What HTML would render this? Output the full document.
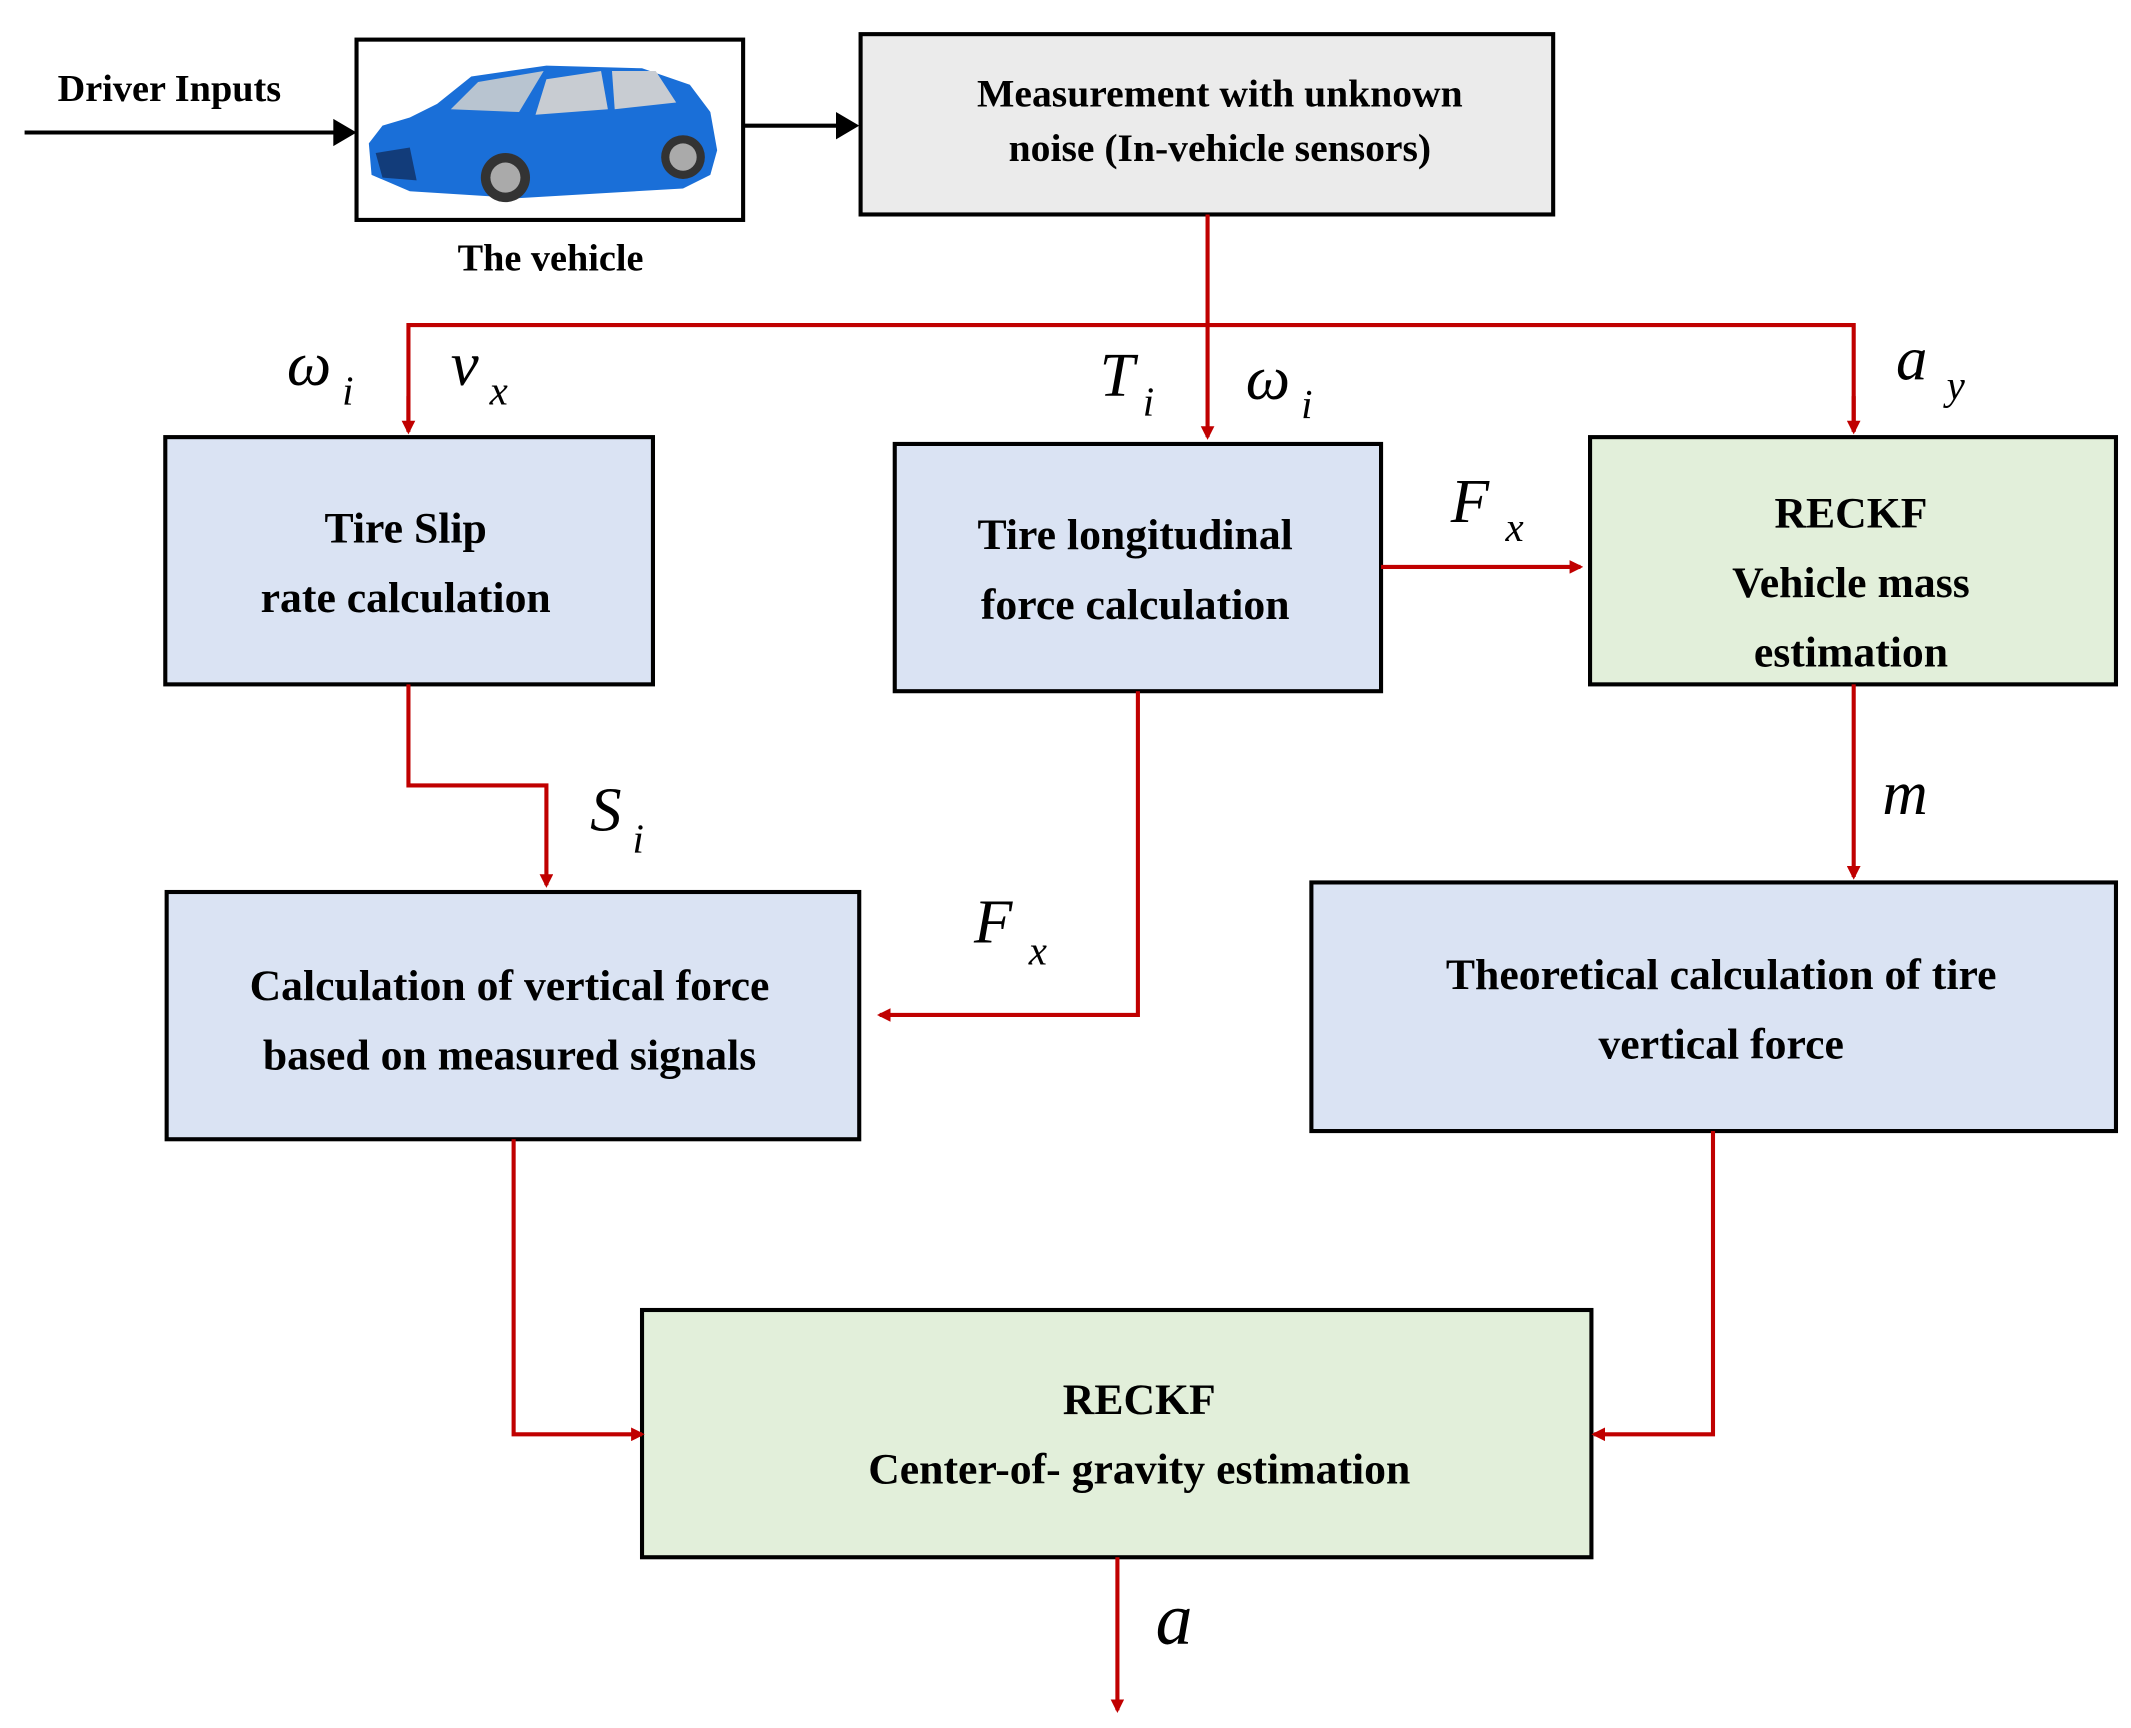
<!DOCTYPE html>
<html><head><meta charset="utf-8"><style>html,body{margin:0;padding:0;background:#fff}svg{display:block}</style></head>
<body>
<svg width="2131" height="1728" viewBox="0 0 1560 1265" preserveAspectRatio="none" xmlns="http://www.w3.org/2000/svg" font-family="'Liberation Serif',serif">
<defs>
<marker id="ar" markerWidth="10" markerHeight="10" refX="8" refY="5" orient="auto" markerUnits="userSpaceOnUse"><path d="M0,0 L10,5 L0,10 Z" fill="#c00000"/></marker>
</defs>
<g stroke="#000" stroke-width="3" fill="none">
<rect x="261" y="29" width="283" height="132" fill="#fff"/>
<rect x="630" y="25" width="507" height="132" fill="#ebebeb"/>
<rect x="121" y="320" width="357" height="181" fill="#dae3f3"/>
<rect x="655" y="325" width="356" height="181" fill="#dae3f3"/>
<rect x="1164" y="320" width="385" height="181" fill="#e2efda"/>
<rect x="122" y="653" width="507" height="181" fill="#dae3f3"/>
<rect x="960" y="646" width="589" height="182" fill="#dae3f3"/>
<rect x="470" y="959" width="695" height="181" fill="#e2efda"/>
</g>
<!-- black arrows -->
<g stroke="#000" stroke-width="3">
<line x1="18" y1="97" x2="248" y2="97"/>
<line x1="544" y1="92" x2="616" y2="92"/>
</g>
<path d="M244,87 L261,97 L244,107Z" fill="#000"/>
<path d="M612,82 L629,92 L612,102Z" fill="#000"/>
<!-- car -->
<g>
<path d="M272,128 L270,105 L280,92 L300,86 L320,76 L345,56 L400,48 L470,50 L505,62 L520,82 L525,110 L520,128 L500,138 L380,145 L300,140 Z" fill="#1a6fd8"/>
<path d="M330,80 L350,60 L398,52 L380,82 Z" fill="#b8c4d0"/>
<path d="M392,84 L400,58 L440,52 L445,80 Z" fill="#c8ccd2"/>
<path d="M450,80 L448,52 L480,52 L495,75 Z" fill="#c8ccd2"/>
<path d="M275,112 L300,108 L305,132 L280,130Z" fill="#123c7a"/>
<circle cx="370" cy="130" r="18" fill="#333"/><circle cx="370" cy="130" r="11" fill="#aaa"/>
<circle cx="500" cy="115" r="16" fill="#333"/><circle cx="500" cy="115" r="10" fill="#aaa"/>
</g>
<!-- red connectors -->
<g stroke="#c00000" stroke-width="3" fill="none">
<line x1="884" y1="157" x2="884" y2="320" marker-end="url(#ar)"/>
<polyline points="299,316 299,238 1357,238 1357,316" />
<line x1="299" y1="290" x2="299" y2="316" marker-end="url(#ar)"/>
<line x1="1357" y1="290" x2="1357" y2="316" marker-end="url(#ar)"/>
<line x1="1011" y1="415" x2="1157" y2="415" marker-end="url(#ar)"/>
<polyline points="299,501 299,575 400,575 400,648" marker-end="url(#ar)"/>
<polyline points="833,506 833,743 644,743" marker-end="url(#ar)"/>
<line x1="1357" y1="501" x2="1357" y2="642" marker-end="url(#ar)"/>
<polyline points="376,834 376,1050 470,1050" marker-end="url(#ar)"/>
<polyline points="1254,828 1254,1050 1167,1050" marker-end="url(#ar)"/>
<line x1="818" y1="1140" x2="818" y2="1252" marker-end="url(#ar)"/>
</g>
<!-- text -->
<g font-weight="bold" fill="#000" text-anchor="middle">
<text x="124" y="74" font-size="28">Driver Inputs</text>
<text x="403" y="198" font-size="28">The vehicle</text>
<text x="893" y="78" font-size="29">Measurement with unknown</text>
<text x="893" y="118" font-size="29">noise (In-vehicle sensors)</text>
<text x="297" y="397" font-size="32">Tire Slip</text>
<text x="297" y="448" font-size="32">rate calculation</text>
<text x="831" y="402" font-size="32">Tire longitudinal</text>
<text x="831" y="453" font-size="32">force calculation</text>
<text x="1355" y="386" font-size="32">RECKF</text>
<text x="1355" y="437" font-size="32">Vehicle mass</text>
<text x="1355" y="488" font-size="32">estimation</text>
<text x="373" y="732" font-size="32">Calculation of vertical force</text>
<text x="373" y="783" font-size="32">based on measured signals</text>
<text x="1260" y="724" font-size="32">Theoretical calculation of tire</text>
<text x="1260" y="775" font-size="32">vertical force</text>
<text x="834" y="1035" font-size="32">RECKF</text>
<text x="834" y="1086" font-size="32">Center-of- gravity estimation</text>
</g>
<g font-style="italic" fill="#000" font-size="46">
<text x="210" y="282">ω<tspan font-size="30" dx="8" dy="14">i</tspan></text>
<text x="330" y="282">v<tspan font-size="30" dx="8" dy="14">x</tspan></text>
<text x="805" y="290">T<tspan font-size="30" dx="6" dy="14">i</tspan></text>
<text x="912" y="292">ω<tspan font-size="30" dx="8" dy="14">i</tspan></text>
<text x="1388" y="278">a<tspan font-size="30" dx="14" dy="14">y</tspan></text>
<text x="1062" y="382">F<tspan font-size="30" dx="12" dy="14">x</tspan></text>
<text x="432" y="608">S<tspan font-size="30" dx="8" dy="16">i</tspan></text>
<text x="713" y="690">F<tspan font-size="30" dx="12" dy="16">x</tspan></text>
<text x="1378" y="596">m</text>
<text x="846" y="1203" font-size="54">a</text>
</g>
</svg>
</body></html>
